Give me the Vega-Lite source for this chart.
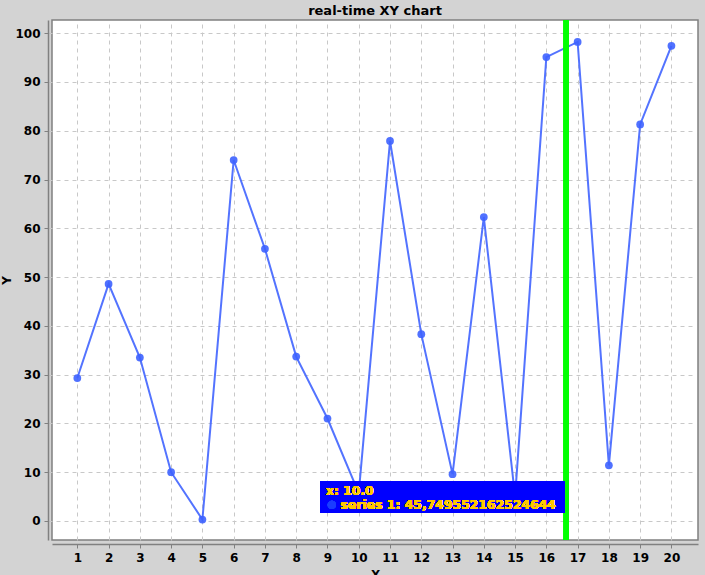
{
  "$schema": "https://vega.github.io/schema/vega-lite/v6.json",
  "autosize": "none",
  "width": 646,
  "height": 520,
  "padding": {"left": 52, "top": 20, "right": 7, "bottom": 35},
  "background": "#d3d3d3",
  "title": {"text": "real-time XY chart", "font": "DejaVu Sans", "fontSize": 13, "fontWeight": "bold", "color": "#000000", "offset": 0, "anchor": "middle"},
  "config": {
    "view": {"fill": "#ffffff", "stroke": "#808080", "strokeWidth": 1.5},
    "axis": {
      "labelFont": "DejaVu Sans", "labelFontSize": 12, "labelFontWeight": "bold", "labelColor": "#000000",
      "titleFont": "DejaVu Sans", "titleFontSize": 12, "titleFontWeight": "bold", "titleColor": "#000000",
      "domainColor": "#808080", "domainWidth": 1.5, "tickColor": "#808080", "tickSize": 4,
      "gridColor": "#c8c8c8", "gridDash": [4, 4], "gridWidth": 1, "offset": 4
    }
  },
  "data": {"values": [
    {"x": 1, "y": 29.3}, {"x": 2, "y": 48.6}, {"x": 3, "y": 33.5}, {"x": 4, "y": 10.0},
    {"x": 5, "y": 0.3}, {"x": 6, "y": 74.0}, {"x": 7, "y": 55.8}, {"x": 8, "y": 33.7},
    {"x": 9, "y": 21.0}, {"x": 10, "y": 5.7}, {"x": 11, "y": 77.9}, {"x": 12, "y": 38.3},
    {"x": 13, "y": 9.6}, {"x": 14, "y": 62.3}, {"x": 15, "y": 5.0}, {"x": 16, "y": 95.1},
    {"x": 17, "y": 98.2}, {"x": 18, "y": 11.4}, {"x": 19, "y": 81.3}, {"x": 20, "y": 97.4}
  ]},
  "encoding": {
    "x": {"field": "x", "type": "quantitative", "title": "X",
      "scale": {"domain": [0.19, 20.85], "nice": false, "zero": false},
      "axis": {"values": [1,2,3,4,5,6,7,8,9,10,11,12,13,14,15,16,17,18,19,20], "labelPadding": 4, "titlePadding": 6}},
    "y": {"field": "y", "type": "quantitative", "title": "Y",
      "scale": {"domain": [-3.9, 102.7], "nice": false, "zero": false},
      "axis": {"values": [0,10,20,30,40,50,60,70,80,90,100], "labelPadding": 4, "titlePadding": 1}}
  },
  "layer": [
    {"mark": {"type": "line", "color": "#4a6cff", "strokeWidth": 2, "opacity": 0.95}},
    {"mark": {"type": "point", "filled": true, "color": "#3d62ff", "size": 60, "opacity": 0.9}},
    {"mark": {"type": "rule", "color": "#00ff00", "strokeWidth": 5},
     "encoding": {"x": {"datum": 16.64}, "y": null}},
    {"mark": {"type": "rect", "color": "#0000ff"},
     "encoding": {"x": {"datum": 8.77}, "x2": {"datum": 16.58}, "y": {"datum": 8.2}, "y2": {"datum": 1.64}}},
    {"mark": {"type": "point", "filled": true, "color": "#1a3cff", "size": 70, "opacity": 1},
     "encoding": {"x": {"datum": 9.14}, "y": {"datum": 3.3}}},
    {"mark": {"type": "text", "color": "#ffc800", "font": "DejaVu Sans", "fontSize": 12.4, "fontWeight": "bold", "align": "left", "baseline": "middle", "text": "x: 10.0"},
     "encoding": {"x": {"datum": 8.95}, "y": {"datum": 6.1}}},
    {"mark": {"type": "text", "color": "#ffc800", "font": "DejaVu Sans", "fontSize": 12.4, "fontWeight": "bold", "align": "left", "baseline": "middle", "text": "series 1: 45,749552162524644"},
     "encoding": {"x": {"datum": 9.42}, "y": {"datum": 3.3}}}
  ]
}
